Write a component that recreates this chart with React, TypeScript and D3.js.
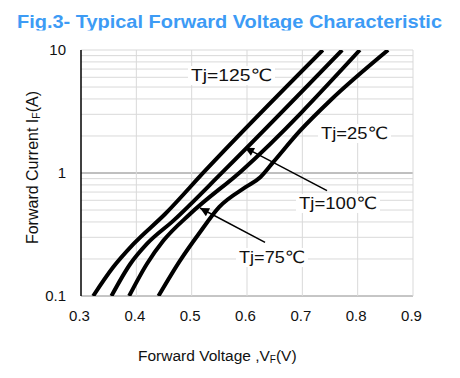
import React from "react";
import * as d3 from "d3";

const W = 460;
const H = 378;

// Axis ticks
const xTicks = [0.3, 0.4, 0.5, 0.6, 0.7, 0.8, 0.9];
const yTickLabels = [0.1, 1, 10];

// Series: forward voltage (V) vs forward current (A)
const v125 = [0.322, 0.358, 0.395, 0.452, 0.524, 0.737];
const i125 = [0.1, 0.171, 0.265, 0.464, 1.04, 10];
const v100 = [0.355, 0.389, 0.419, 0.467, 0.558, 0.772];
const i100 = [0.1, 0.182, 0.265, 0.41, 1.04, 10];
const v75 = [0.387, 0.419, 0.449, 0.497, 0.59, 0.804];
const i75 = [0.1, 0.182, 0.282, 0.464, 1.04, 10];
const v25 = [0.44, 0.479, 0.515, 0.55, 0.598, 0.624, 0.647, 0.696, 0.75, 0.855];
const i25 = [0.1, 0.194, 0.33, 0.53, 0.77, 0.925, 1.22, 2.21, 3.87, 10];

const seriesNames = ["Tj=125℃", "Tj=100℃", "Tj=75℃", "Tj=25℃"];
const seriesV = [v125, v100, v75, v25];
const seriesI = [i125, i100, i75, i25];

// Annotation labels (data coords of text start / baseline)
const labelText = ["Tj=125℃", "Tj=25℃", "Tj=100℃", "Tj=75℃"];
const labelV = [0.4988, 0.7338, 0.694, 0.5856];
const labelI = [5.6, 1.89, 0.51, 0.1855];
const labelLen = [81, 67, 78, 66];

// Arrows (from -> to, data coords)
const arrowFromV = [0.7446, 0.6326];
const arrowFromI = [0.718, 0.2728];
const arrowToV = [0.5964, 0.5151];
const arrowToI = [1.606, 0.519];

export default function App() {
  const left = 81, right = 413, top = 50, bottom = 296;
  const x = d3.scaleLinear().domain([0.3, 0.9]).range([left, right]);
  const y = d3.scaleLog().domain([0.1, 10]).range([bottom, top]);
  const gridY = y.ticks();

  const line = d3
    .line<[number, number]>()
    .x((d) => x(d[0]))
    .y((d) => y(d[1]))
    .curve(d3.curveMonotoneX);

  const font = "'Liberation Sans', Arial, 'DejaVu Sans', sans-serif";

  return (
    <svg
      width={W}
      height={H}
      style={{ position: "absolute", left: 0, top: 0, background: "#fff" }}
      fontFamily={font}
    >
      <defs>
        <clipPath id="plotClip">
          <rect x={left} y={top} width={right - left} height={bottom - top} />
        </clipPath>
        <clipPath id="titleClip">
          <rect x={0} y={0} width={W} height={30.5} />
        </clipPath>
        <marker
          id="arrowHead"
          viewBox="0 0 10 10"
          refX={10}
          refY={5}
          markerWidth={11}
          markerHeight={9}
          markerUnits="userSpaceOnUse"
          orient="auto"
        >
          <path d="M0,0 L10,5 L0,10 Z" fill="#000" />
        </marker>
      </defs>

      {/* Title */}
      <text
        x={17}
        y={28.3}
        fontSize={18.5}
        fontWeight="bold"
        fill="#3d9bf5"
        textLength={425}
        lengthAdjust="spacingAndGlyphs"
        clipPath="url(#titleClip)"
      >
        Fig.3- Typical Forward Voltage Characteristic
      </text>

      {/* Horizontal grid */}
      {gridY.map((t, k) => (
        <line
          key={"gy" + k}
          x1={left}
          x2={right}
          y1={y(t)}
          y2={y(t)}
          stroke={Math.abs(t - 1) < 1e-9 ? "#808080" : t === 0.1 ? "#8c8c8c" : "#d9d9d9"}
          strokeWidth={1}
        />
      ))}
      {/* Vertical grid */}
      {xTicks.slice(1).map((t, k) => (
        <line
          key={"gx" + k}
          x1={x(t)}
          x2={x(t)}
          y1={top}
          y2={bottom}
          stroke="#d9d9d9"
          strokeWidth={1}
        />
      ))}
      {/* Left axis */}
      <line x1={left} x2={left} y1={top} y2={bottom} stroke="#000" strokeWidth={1.5} />

      {/* Curves */}
      <g clipPath="url(#plotClip)">
        {seriesV.map((vs, k) => (
          <path
            key={seriesNames[k]}
            d={line(vs.map((v, j) => [v, seriesI[k][j]] as [number, number])) || ""}
            fill="none"
            stroke="#000"
            strokeWidth={4}
            strokeLinejoin="round"
          />
        ))}
      </g>

      {/* Arrows */}
      {arrowFromV.map((v, k) => (
        <line
          key={"ar" + k}
          x1={x(v)}
          y1={y(arrowFromI[k])}
          x2={x(arrowToV[k])}
          y2={y(arrowToI[k])}
          stroke="#000"
          strokeWidth={1.5}
          markerEnd="url(#arrowHead)"
        />
      ))}

      {/* Labels */}
      {labelText.map((t, k) => {
        const lx = x(labelV[k]);
        const ly = y(labelI[k]);
        return (
          <g key={"lb" + k}>
            <rect x={lx - 3} y={ly - 15} width={labelLen[k] + 6} height={19} fill="#fff" />
            <text
              x={lx}
              y={ly}
              fontSize={17}
              fill="#111"
              textLength={labelLen[k]}
              lengthAdjust="spacingAndGlyphs"
            >
              {t}
            </text>
          </g>
        );
      })}

      {/* X tick labels */}
      {xTicks.map((t, k) => (
        <text key={"xt" + k} x={x(t) - 1.5} y={321} fontSize={15} textAnchor="middle" fill="#111">
          {d3.format(".1f")(t)}
        </text>
      ))}
      {/* Y tick labels */}
      {yTickLabels.map((t, k) => (
        <text
          key={"yt" + k}
          x={66}
          y={y(t) + 5}
          fontSize={15}
          textAnchor="end"
          fill="#111"
        >
          {String(t)}
        </text>
      ))}

      {/* X axis title */}
      <text x={138} y={360.5} fontSize={15.5} fill="#111">
        Forward Voltage ,V
        <tspan fontSize={10} dy={2}>F</tspan>
        <tspan dy={-2}>(V)</tspan>
      </text>

      {/* Y axis title */}
      <text
        transform={`translate(37.5,167.5) rotate(-90)`}
        fontSize={16}
        textAnchor="middle"
        fill="#111"
      >
        Forward Current I
        <tspan fontSize={10.5} dy={2}>F</tspan>
        <tspan dy={-2}>(A)</tspan>
      </text>
    </svg>
  );
}
